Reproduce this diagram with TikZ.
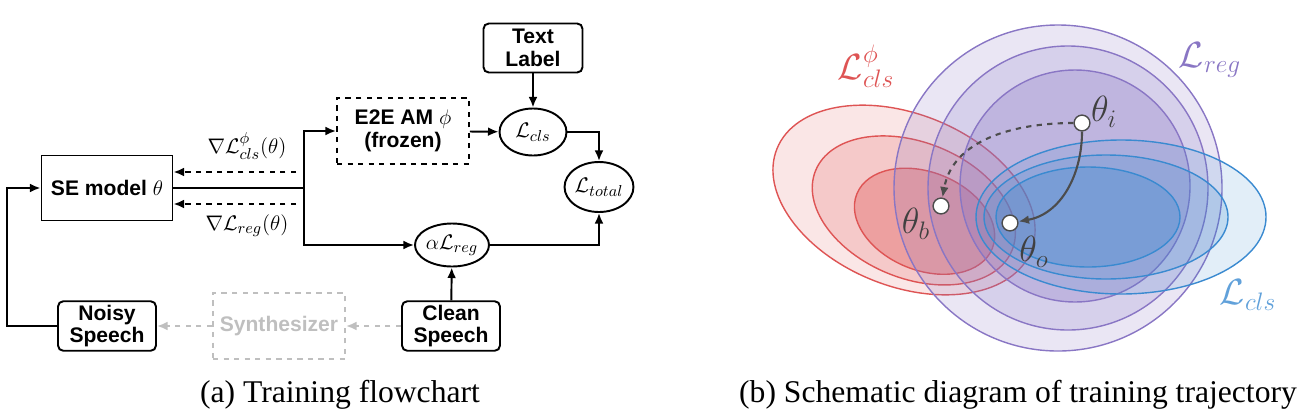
\documentclass[tikz,border=0pt]{standalone}
\usepackage{fontspec}
\setsansfont{Liberation Sans}
\newfontfamily\capfont{Liberation Serif}
\usetikzlibrary{positioning,arrows.meta,shapes.geometric}
\definecolor{redc}{RGB}{222,84,84}
\definecolor{purc}{RGB}{137,118,196}
\definecolor{bluc}{RGB}{58,138,208}
\begin{document}
\begin{tikzpicture}[x=0.02cm,y=-0.02cm,>={Latex[length=6pt,width=5pt]},
  box/.style={draw,line width=1.1pt,rounded corners=3pt,align=center,font=\sffamily\bfseries\fontsize{12}{13}\selectfont,inner sep=2pt},
  loss/.style={draw,line width=1.1pt,ellipse,inner sep=0pt,font=\fontsize{13}{14}\selectfont},
  wire/.style={line width=1.1pt,->},
  grad/.style={line width=1.1pt,dashed,->},
  faint/.style={draw=gray!50,text=gray!50,dashed,line width=1.1pt},
  dot/.style={circle,draw=black!70,fill=white,thick,inner sep=0pt,minimum size=9pt},
  caption/.style={font=\capfont\fontsize{18}{20}\selectfont}]
\useasboundingbox (0,0) rectangle (1297,413);
% (a) training flowchart
\node[box,rounded corners=0pt,minimum width=131*0.02cm,minimum height=65*0.02cm] (se) at (107,188) {SE model $\theta$};
\node[box,minimum width=98*0.02cm,minimum height=49*0.02cm] (noisy) at (107,326) {Noisy\\Speech};
\node[box,faint,rounded corners=0pt,minimum width=132*0.02cm,minimum height=66*0.02cm] (synth) at (279,326) {Synthesizer};
\node[box,minimum width=98*0.02cm,minimum height=49*0.02cm] (clean) at (451,326) {Clean\\Speech};
\node[box,minimum width=99*0.02cm,minimum height=49*0.02cm] (text) at (533,48) {Text\\Label};
\node[box,dashed,rounded corners=0pt,minimum width=132*0.02cm,minimum height=66*0.02cm] (am) at (403,131) {E2E AM $\phi$\\(frozen)};
\node[loss,minimum width=67*0.02cm,minimum height=47*0.02cm] (lcls) at (533,132) {$\mathcal{L}_{cls}$};
\node[loss,minimum width=66*0.02cm,minimum height=50*0.02cm] (ltot) at (599,187) {$\mathcal{L}_{total}$};
\node[loss,minimum width=66*0.02cm,minimum height=43*0.02cm] (lreg) at (452,245) {$\alpha\mathcal{L}_{reg}$};
\coordinate (br) at (304,188);
\draw[line width=1.1pt] (se) -- (br);
\draw[wire] (br) |- (am);
\draw[wire] (br) |- (lreg);
\draw[wire] (am) -- (lcls);
\draw[wire] (text) -- (lcls);
\draw[wire] (lcls) -| (ltot);
\draw[wire] (lreg) -| (ltot);
\draw[wire] (clean) -- (lreg);
\draw[wire] (noisy.west) -- ++(-50,0) |- (se);
\draw[faint,->] (clean) -- (synth);
\draw[faint,->] (synth) -- (noisy);
\coordinate (g1) at (296,172);
\coordinate (g2) at (296,204);
\draw[grad] (g1) -- (g1 -| se.east) node[pos=0.4,above=3pt,font=\fontsize{13}{14}\selectfont] (gcls) {$\nabla\mathcal{L}^{\phi}_{cls}(\theta)$};
\draw[grad] (g2) -- (g2 -| se.east) node[pos=0.4,below=2pt,font=\fontsize{13}{14}\selectfont] (greg) {$\nabla\mathcal{L}_{reg}(\theta)$};
\node[caption] (capa) at (340,395) {(a) Training flowchart};
% (b) trajectory
\begin{scope}[shift={(904,200)},rotate=-22]
  \fill[redc,fill opacity=0.15] (0,0) ellipse [x radius=137,y radius=86];
  \draw[redc,thick] (0,0) ellipse [x radius=137,y radius=86];
  \fill[redc,fill opacity=0.2] (13,6) ellipse [x radius=106,y radius=68];
  \draw[redc,thick] (13,6) ellipse [x radius=106,y radius=68];
  \fill[redc,fill opacity=0.35] (27,12) ellipse [x radius=73,y radius=49];
  \draw[redc,thick] (27,12) ellipse [x radius=73,y radius=49];
\end{scope}
\foreach \cx/\cy/\rx/\ry/\op in {1058/188/164/163/0.18,1068/188/140/142/0.2,1075/186/115/116/0.3}
  \filldraw[purc,thick,fill opacity=\op] (\cx,\cy) ellipse [x radius=\rx,y radius=\ry];
\foreach \cx/\rx/\ry/\op in {1121/145/77/0.15,1106/122/62/0.2,1088/92/50/0.3}
  \filldraw[bluc,thick,fill opacity=\op] (\cx,217) ellipse [x radius=\rx,y radius=\ry];
\node[dot] (ti) at (1082,123) {};
\node[dot] (tb) at (941,206) {};
\node[dot] (to) at (1010,223) {};
\draw[black!70,very thick,dashed,->] (ti) to[out=180,in=80] (tb);
\draw[black!70,very thick,->] (ti) to[out=-90,in=10] (to);
\node[font=\fontsize{21}{23}\selectfont,text=black!75] (lti) at (1104,112) {$\theta_i$};
\node[font=\fontsize{21}{23}\selectfont,text=black!75] (ltb) at (916,224) {$\theta_b$};
\node[font=\fontsize{21}{23}\selectfont,text=black!75] (lto) at (1034,252) {$\theta_o$};
\node[font=\fontsize{21}{23}\selectfont,text=redc] (lphi) at (866,66) {$\mathcal{L}^{\phi}_{cls}$};
\node[font=\fontsize{21}{23}\selectfont,text=purc] (lr) at (1210,60) {$\mathcal{L}_{reg}$};
\node[font=\fontsize{21}{23}\selectfont,text=bluc!80] (lc) at (1248,295) {$\mathcal{L}_{cls}$};
\node[caption] (capb) at (1018,395) {(b) Schematic diagram of training trajectory};
\end{tikzpicture}
\end{document}
